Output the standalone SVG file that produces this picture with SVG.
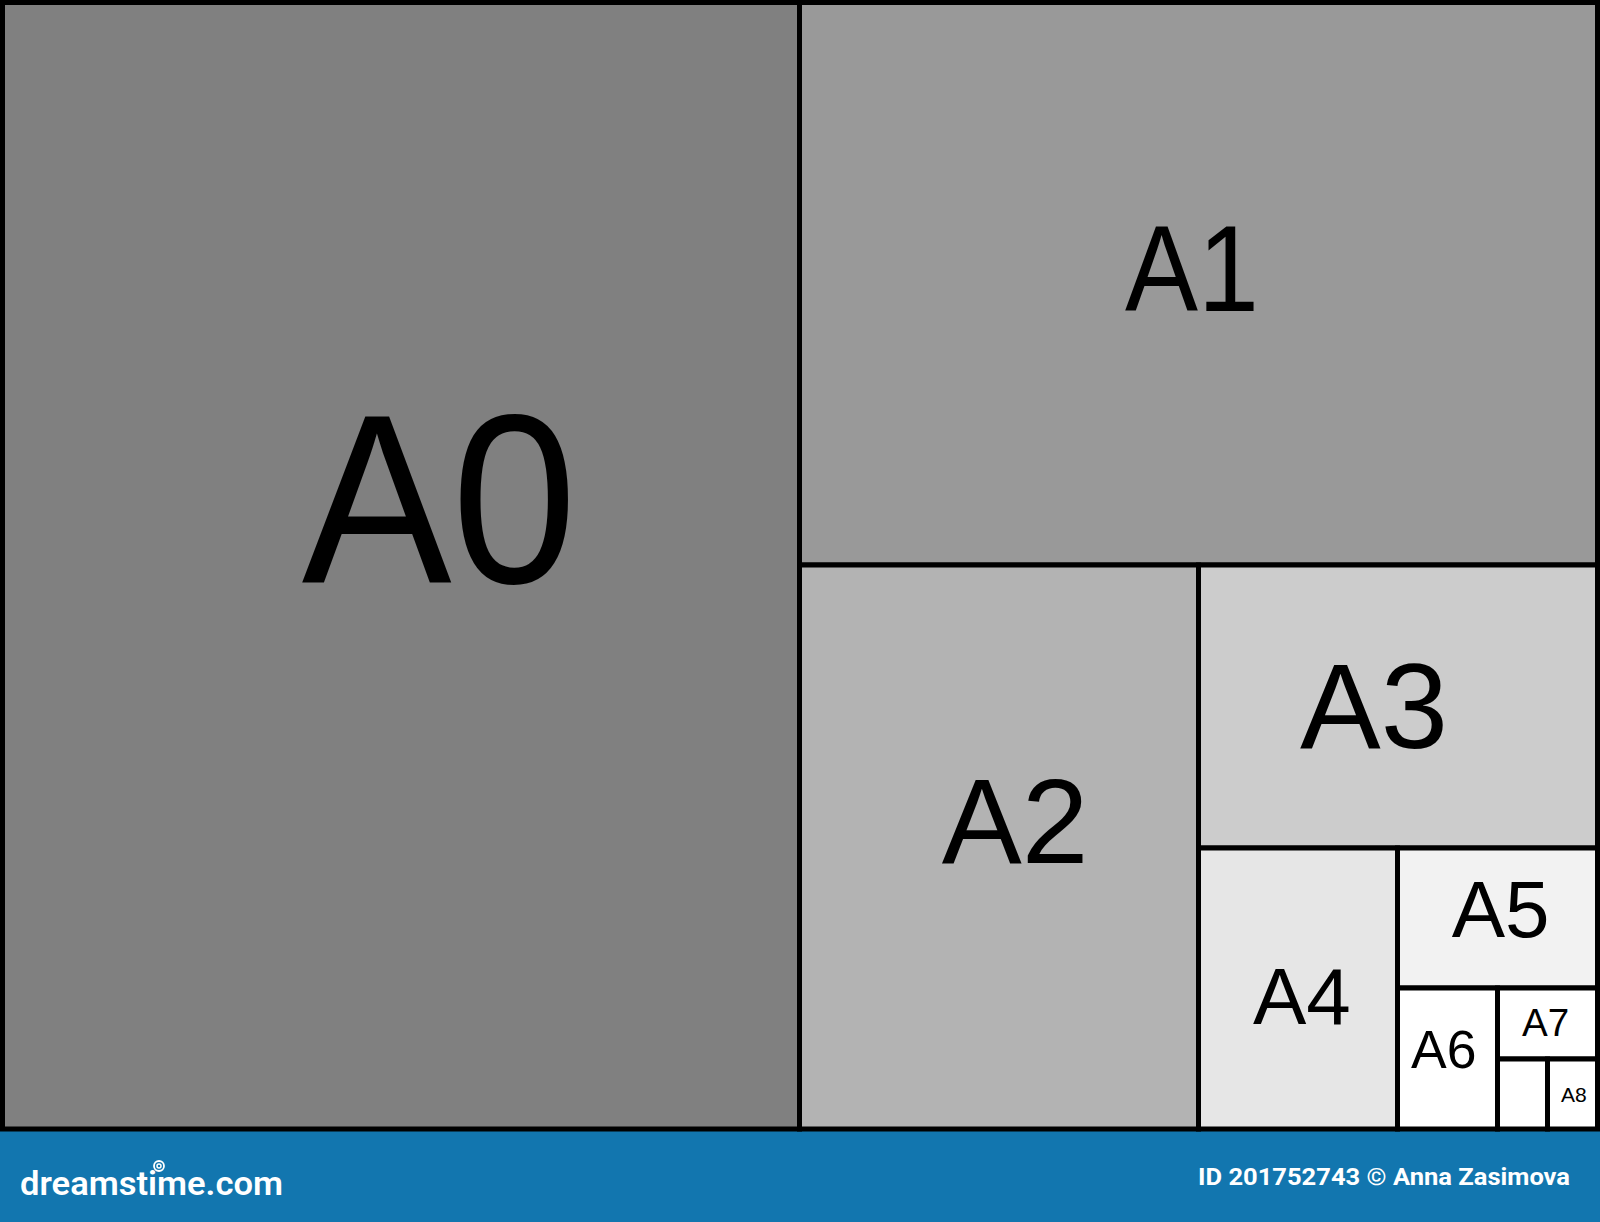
<svg xmlns="http://www.w3.org/2000/svg" width="1600" height="1222" viewBox="0 0 1600 1222">
<style>
.sheet{stroke:#000;stroke-width:5}
.lbl{font-family:"Liberation Sans",Arial,sans-serif;fill:#000}
.foot{font-family:Roboto,"Liberation Sans",sans-serif;fill:#fff}
</style>
<rect x="0" y="0" width="1600" height="1222" fill="#1276af"/>
<g id="A0"><rect class="sheet" x="2.5" y="2.5" width="797" height="1126.5" fill="#808080"/>
<text class="lbl" x="301.7" y="582.7" font-size="241" textLength="275" lengthAdjust="spacingAndGlyphs">A0</text></g>
<g id="A1"><rect class="sheet" x="799.5" y="2.5" width="798" height="562.5" fill="#999999"/>
<text class="lbl" x="1125" y="310.7" font-size="122" textLength="134" lengthAdjust="spacingAndGlyphs">A1</text></g>
<g id="A2"><rect class="sheet" x="799.5" y="565" width="399" height="564" fill="#b3b3b3"/>
<text class="lbl" x="941.7" y="862.7" font-size="120">A2</text></g>
<g id="A3"><rect class="sheet" x="1198.5" y="565" width="399" height="283" fill="#cccccc"/>
<text class="lbl" x="1300" y="748.3" font-size="121">A3</text></g>
<g id="A4"><rect class="sheet" x="1198.5" y="848" width="199" height="281" fill="#e6e6e6"/>
<text class="lbl" x="1253" y="1024" font-size="80">A4</text></g>
<g id="A5"><rect class="sheet" x="1397.5" y="848" width="200" height="140" fill="#f2f2f2"/>
<text class="lbl" x="1451.7" y="937.3" font-size="80">A5</text></g>
<g id="A6"><rect class="sheet" x="1397.5" y="988" width="100" height="141" fill="#ffffff"/>
<text class="lbl" x="1411" y="1068.3" font-size="53.5">A6</text></g>
<g id="A7"><rect class="sheet" x="1497.5" y="988" width="100" height="71" fill="#ffffff"/>
<text class="lbl" x="1522" y="1036" font-size="38.6">A7</text></g>
<g id="A9-empty"><rect class="sheet" x="1497.5" y="1059" width="50" height="70" fill="#ffffff"/></g>
<g id="A8"><rect class="sheet" x="1547.5" y="1059" width="50" height="70" fill="#ffffff"/>
<text class="lbl" x="1561" y="1101.7" font-size="21">A8</text></g>
<g id="connectors"></g>
<g id="footer">
<text class="foot" x="20" y="1195" font-size="34" font-weight="600" font-family="Open Sans" textLength="263" lengthAdjust="spacingAndGlyphs">dreamstime.com</text>
<circle cx="159" cy="1166" r="5" fill="none" stroke="#fff" stroke-width="1.8"/>
<circle cx="159" cy="1166" r="2" fill="none" stroke="#fff" stroke-width="1.5"/>
<text class="foot" x="1198" y="1185" font-size="24" font-weight="bold" textLength="372" lengthAdjust="spacingAndGlyphs">ID 201752743 © Anna Zasimova</text>
</g>
</svg>
